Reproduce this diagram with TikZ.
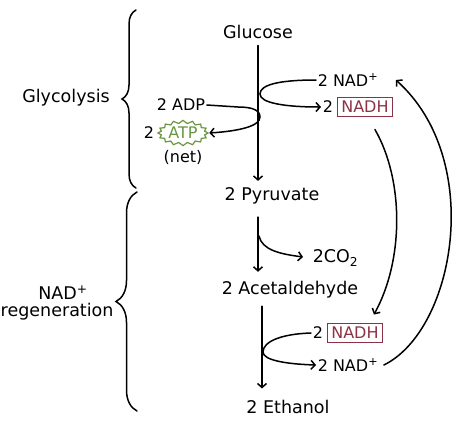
\documentclass[tikz,border=0pt]{standalone}
\usepackage{fontspec}
\setmainfont{DejaVu Sans}
\usetikzlibrary{arrows.meta, positioning, shapes.symbols, decorations.pathreplacing}
\definecolor{nadhred}{RGB}{140,50,70}
\definecolor{atpgreen}{RGB}{105,150,65}
\begin{document}
\begin{tikzpicture}[x=1pt, y=-1pt, >={Straight Barb[length=4pt, width=9pt]}, line width=1.5pt, line cap=round,
	mol/.style={inner sep=1pt, font=\fontsize{17.5}{19}\selectfont},
	side/.style={inner sep=1pt, font=\fontsize{16}{18}\selectfont},
	nadhbox/.style={side, draw=nadhred, text=nadhred, line width=1.2pt, inner sep=4pt},
	atpburst/.style={side, starburst, starburst points=16, starburst point height=3pt, random starburst=0,
		draw=atpgreen, text=atpgreen, line width=1.2pt, inner sep=1pt},
	bracket/.style={decorate, decoration={brace, amplitude=#1}}]

\useasboundingbox (0,0) rectangle (474,424);

\node [mol] (glucose) at (258,32) {Glucose};
\node [mol] (pyruvate) at (272,196) {2 Pyruvate};
\node [mol] (acetaldehyde) at (290,290) {2 Acetaldehyde};
\node [mol] (ethanol) at (288,407) {2 Ethanol};
\node [mol, anchor=west] (co2) at (311,258) {2CO\textsubscript{2}};

\node [mol] (glycolysis) at (66,98) {Glycolysis};
\node [mol] (nadlabel) at (63,293) {NAD\textsuperscript{+}};
\node [mol, anchor=west, inner sep=0pt] (regen) at (0,312) {regeneration};

\node [side, anchor=west] (nadtop) at (316,80) {2 NAD\textsuperscript{+}};
\node [side, anchor=west] (twotop) at (321,107) {2};
\node [nadhbox, right=2pt of twotop] (nadhtop) {NADH};
\node [side] (adp) at (181,105) {2 ADP};
\node [atpburst] (atp) at (183,133) {ATP};
\node [side, left=1pt of atp] (twoatp) {2};
\node [side] (net) at (183,157) {(net)};
\node [side, anchor=west] (twobot) at (311,333) {2};
\node [nadhbox, right=2pt of twobot] (nadhbot) {NADH};
\node [side, anchor=west] (nadbot) at (316,365) {2 NAD\textsuperscript{+}};

\draw [bracket=14pt] (136,188) -- (136,10);
\draw [bracket=21pt] (137,411) -- (137,192);

\draw [->, shorten <=5pt, shorten >=5pt] (glucose.south) -- (glucose.south |- pyruvate.north);
\draw [->, shorten <=11pt, shorten >=8pt] (pyruvate.south -| glucose.south) -- (acetaldehyde.north -| glucose.south);
\draw [->, shorten <=6pt, shorten >=10pt] ([xshift=4pt]acetaldehyde.south -| glucose.south) -- ([xshift=4pt]ethanol.north -| glucose.south);

\draw [->] (nadtop.west) .. controls (278,80) and (260,85) .. (260,94) .. controls (260,103) and (285,107) .. (twotop.west);
\draw [->] (adp.east) -- (238,107) .. controls (252,107) and (260,110) .. (260,117) .. controls (260,126) and (240,131) .. (atp.east);
\draw [->, shorten >=8pt] (259,236) .. controls (262,250) and (280,254) .. (co2.west);
\draw [->] (twobot.west) .. controls (280,334) and (263,342) .. (263,352) .. controls (263,360) and (285,364) .. (nadbot.west);

\draw [->] ([xshift=10pt, yshift=-12pt]nadhtop.south) .. controls (404,180) and (404,260) .. ([xshift=19pt, yshift=8pt]nadhbot.north);
\draw [->] ([xshift=4pt]nadbot.east) .. controls (455,330) and (485,160) .. ([xshift=16pt]nadtop.east);

\end{tikzpicture}
\end{document}
